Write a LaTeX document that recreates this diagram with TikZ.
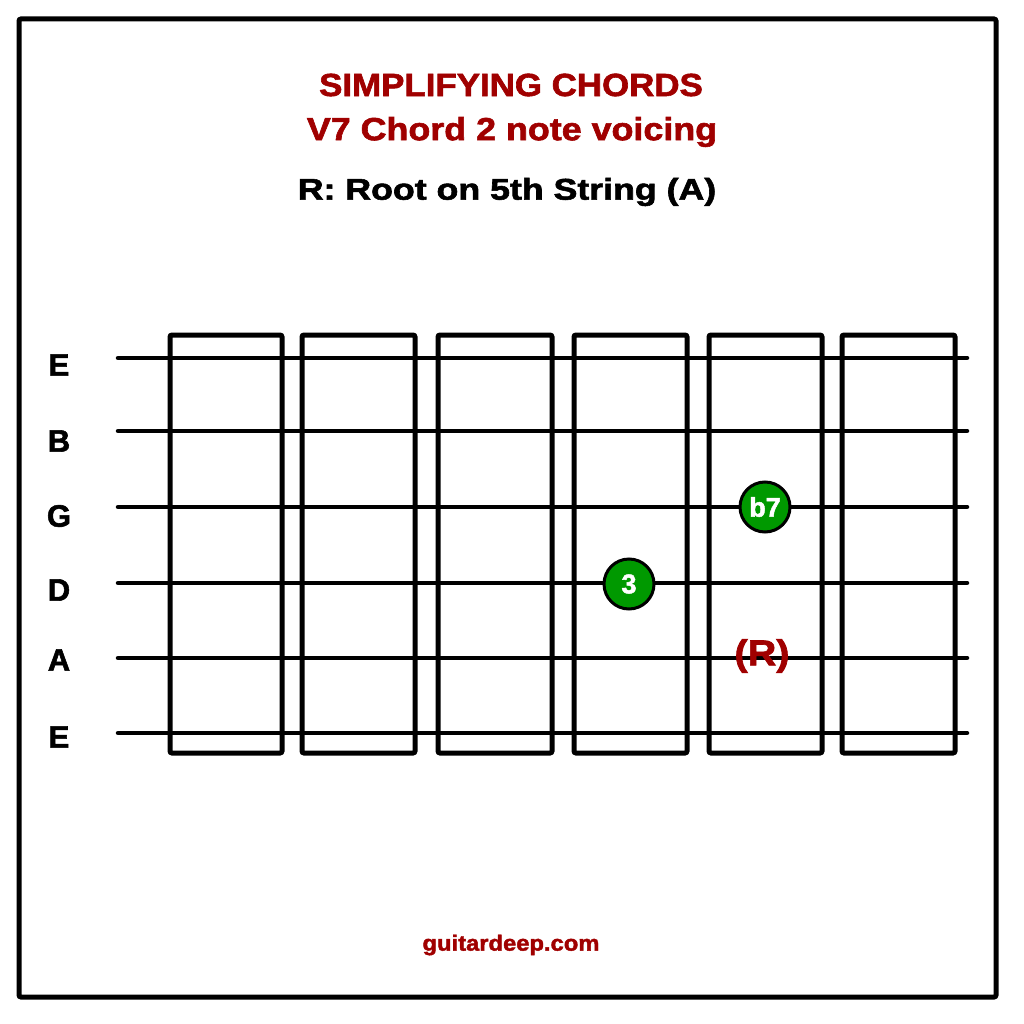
\documentclass[tikz,border=0pt]{standalone}
\usepackage{fontspec}
\setmainfont{Liberation Sans}[BoldFeatures={FakeBold=1.8}]
\definecolor{titlered}{HTML}{A00000}
\definecolor{notegreen}{HTML}{009900}
\begin{document}
\begin{tikzpicture}[x=1pt,y=-1pt,
  frame/.style={line width=5pt,rounded corners=2pt},
  fretbox/.style={line width=5pt,rounded corners=2pt},
  guitarstring/.style={line width=4.5pt,line cap=round},
  strlabel/.style={font=\fontsize{31}{31}\selectfont\bfseries,inner sep=0pt},
  note/.style={circle,draw=black,line width=3pt,fill=notegreen,minimum size=50pt,inner sep=0pt,text=white,font=\fontsize{27}{27}\selectfont\bfseries},
  titletext/.style={inner sep=0pt,font=\fontsize{32}{32}\selectfont\bfseries}]
\useasboundingbox (0,0) rectangle (1024,1024);
\draw[frame] (19,19) rectangle (996,997);
% titles
\node[titletext,text=titlered] (t1) at (511,85) {\scalebox{1.09}[1]{SIMPLIFYING CHORDS}};
\node[titletext,text=titlered] (t2) at (512,132) {\scalebox{1.12}[1]{V7 Chord 2 note voicing}};
\node[titletext,text=black,font=\fontsize{30}{30}\selectfont\bfseries] (t3) at (507,192) {\scalebox{1.19}[1]{R: Root on 5th String (A)}};
% fret boxes
\foreach \l/\r [count=\i] in {170/282,302/415,438/552,574/687,709/822,842/955}{
  \draw[fretbox] (\l,335) rectangle (\r,753);
}
% strings
\foreach \y/\n in {358/s1,431/s2,507/s3,583/s4,658/s5,733/s6}{
  \coordinate (\n L) at (118,\y);
  \coordinate (\n R) at (967,\y);
  \draw[guitarstring] (\n L) -- (\n R);
}
% string labels
\node[strlabel] (lE1) at (59,365) {E};
\node[strlabel] (lB) at (59,441) {B};
\node[strlabel] (lG) at (59,516) {G};
\node[strlabel] (lD) at (59,590) {D};
\node[strlabel] (lA) at (59,660) {A};
\node[strlabel] (lE6) at (59,737) {E};
% notes
\node[note] (b7) at (765,507) {b7};
\node[note] (n3) at (629,584) {3};
\node[inner sep=0pt,text=titlered,font=\fontsize{36}{36}\selectfont\bfseries] (root) at (762,656) {\scalebox{1.1}[1]{(R)}};
% footer
\node[inner sep=0pt,text=titlered,font=\fontsize{22}{22}\selectfont\bfseries] (site) at (511,945) {\scalebox{1.08}[1]{guitardeep.com}};
\end{tikzpicture}
\end{document}
